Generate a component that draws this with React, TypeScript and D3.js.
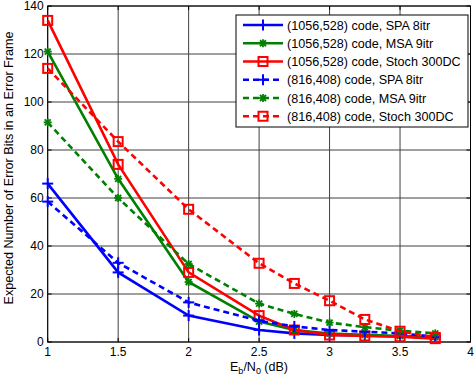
import React from "react";
import * as d3 from "d3";

const xs = [1, 1.5, 2, 2.5, 2.75, 3, 3.25, 3.5, 3.75];
const spa1056 = [66, 29, 11, 5, 3.6, 2.9, 2.7, 2.3, 1.8];
const msa1056 = [121, 68, 25, 8.5, 5, 3.5, 3, 2.5, 2];
const stoch1056 = [134, 74, 29, 11, 5, 2.9, 2.5, 2.2, 1.4];
const spa816 = [58.5, 33, 16.5, 8.8, 6.5, 5, 4.3, 3.6, 2.2];
const msa816 = [91.5, 60, 32.5, 16, 11.7, 8.1, 6.2, 4.7, 3.6];
const stoch816 = [114, 83.5, 55.3, 32.8, 24.4, 17.2, 9.4, 4.5, 1.9];

const seriesNames = [
  "(1056,528) code, SPA 8itr",
  "(1056,528) code, MSA 9itr",
  "(1056,528) code, Stoch 300DC",
  "(816,408) code, SPA 8itr",
  "(816,408) code, MSA 9itr",
  "(816,408) code, Stoch 300DC",
];
const xTicks = [1, 1.5, 2, 2.5, 3, 3.5, 4];
const yTicks = [0, 20, 40, 60, 80, 100, 120, 140];

type Marker = "plus" | "star" | "square";
const series: { name: string; values: number[]; color: string; dashed: boolean; marker: Marker }[] = [
  { name: seriesNames[0], values: spa1056, color: "#0000ff", dashed: false, marker: "plus" },
  { name: seriesNames[1], values: msa1056, color: "#008000", dashed: false, marker: "star" },
  { name: seriesNames[2], values: stoch1056, color: "#ff0000", dashed: false, marker: "square" },
  { name: seriesNames[3], values: spa816, color: "#0000ff", dashed: true, marker: "plus" },
  { name: seriesNames[4], values: msa816, color: "#008000", dashed: true, marker: "star" },
  { name: seriesNames[5], values: stoch816, color: "#ff0000", dashed: true, marker: "square" },
];

const L = 47.7, R = 470.5, T = 6, B = 342;
const FONT = "'Liberation Sans', Arial, Helvetica, sans-serif";

function MarkerShape({ type, x, y, color }: { type: Marker; x: number; y: number; color: string }) {
  if (type === "plus") {
    const s = 5.5;
    return (
      <g stroke={color} strokeWidth={2}>
        <line x1={x - s} y1={y} x2={x + s} y2={y} />
        <line x1={x} y1={y - s} x2={x} y2={y + s} />
      </g>
    );
  }
  if (type === "star") {
    const s = 4;
    const d = s * 0.75;
    return (
      <g stroke={color} strokeWidth={1.8}>
        <line x1={x - s} y1={y} x2={x + s} y2={y} />
        <line x1={x} y1={y - s} x2={x} y2={y + s} />
        <line x1={x - d} y1={y - d} x2={x + d} y2={y + d} />
        <line x1={x - d} y1={y + d} x2={x + d} y2={y - d} />
      </g>
    );
  }
  const h = 4.5;
  return <rect x={x - h} y={y - h} width={2 * h} height={2 * h} fill="none" stroke={color} strokeWidth={2} />;
}

export default function App() {
  const x = d3.scaleLinear().domain([1, 4]).range([L, R]);
  const y = d3.scaleLinear().domain([0, 140]).range([B, T]);
  const line = d3
    .line<number>()
    .x((_, i) => x(xs[i]))
    .y((d) => y(d));

  const legX = 236, legY = 15, legW = 232, legH = 112;
  const rowH = 18.25;

  return (
    <svg width={474} height={377} style={{ position: "absolute", left: 0, top: 0, background: "#fff" }} fontFamily={FONT}>
      <rect x={0} y={0} width={474} height={377} fill="#fff" />
      {/* grid */}
      <g stroke="#404040" strokeWidth={1}>
        {xTicks.map((t) => (
          <line key={"gx" + t} x1={x(t)} x2={x(t)} y1={T} y2={B} />
        ))}
        {yTicks.map((t) => (
          <line key={"gy" + t} x1={L} x2={R} y1={y(t)} y2={y(t)} />
        ))}
      </g>
      {/* ticks */}
      <g stroke="#000" strokeWidth={1}>
        {xTicks.map((t) => (
          <g key={"tx" + t}>
            <line x1={x(t)} x2={x(t)} y1={B} y2={B - 4} />
            <line x1={x(t)} x2={x(t)} y1={T} y2={T + 4} />
          </g>
        ))}
        {yTicks.map((t) => (
          <g key={"ty" + t}>
            <line x1={L} x2={L + 4} y1={y(t)} y2={y(t)} />
            <line x1={R} x2={R - 4} y1={y(t)} y2={y(t)} />
          </g>
        ))}
      </g>
      <rect x={L} y={T} width={R - L} height={B - T} fill="none" stroke="#000" strokeWidth={1} />
      {/* series */}
      {series.map((s, si) => (
        <g key={"s" + si}>
          <path
            d={line(s.values) || ""}
            fill="none"
            stroke={s.color}
            strokeWidth={2.6}
            strokeDasharray={s.dashed ? "6,4" : undefined}
          />
          {s.values.map((v, i) => (
            <MarkerShape key={i} type={s.marker} x={x(xs[i])} y={y(v)} color={s.color} />
          ))}
        </g>
      ))}
      {/* tick labels */}
      <g fontSize={12} fill="#000">
        {xTicks.map((t) => (
          <text key={"lx" + t} x={x(t)} y={356} textAnchor="middle">
            {t}
          </text>
        ))}
        {yTicks.map((t) => (
          <text key={"ly" + t} x={L - 4} y={y(t) + 4.3} textAnchor="end">
            {t}
          </text>
        ))}
      </g>
      {/* axis labels */}
      <text x={259} y={371} textAnchor="middle" fontSize={12.5} fill="#000">
        E<tspan fontSize={9} dy={3}>b</tspan>
        <tspan dy={-3}>/N</tspan>
        <tspan fontSize={9} dy={3}>0</tspan>
        <tspan dy={-3}> (dB)</tspan>
      </text>
      <text
        transform={`translate(13,${(T + B) / 2 - 6}) rotate(-90)`}
        textAnchor="middle"
        fontSize={12.6}
        fill="#000"
      >
        Expected Number of Error Bits in an Error Frame
      </text>
      {/* legend */}
      <rect x={legX} y={legY} width={legW} height={legH} fill="#fff" stroke="#000" strokeWidth={1} />
      {series.map((s, i) => {
        const cy = legY + 10 + i * rowH;
        return (
          <g key={"lg" + i}>
            <line
              x1={243}
              x2={283}
              y1={cy}
              y2={cy}
              stroke={s.color}
              strokeWidth={2.6}
              strokeDasharray={s.dashed ? "6,4" : undefined}
            />
            <MarkerShape type={s.marker} x={263} y={cy} color={s.color} />
            <text x={287} y={cy + 4.5} fontSize={12.6} fill="#000">
              {s.name}
            </text>
          </g>
        );
      })}
    </svg>
  );
}
